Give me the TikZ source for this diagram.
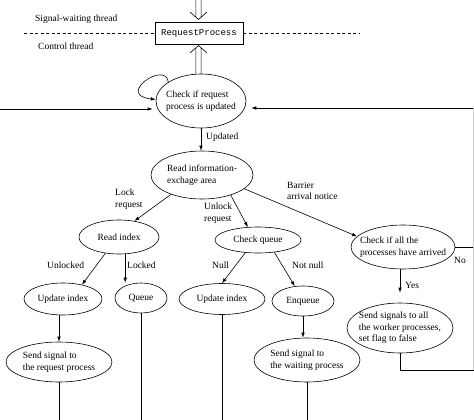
\documentclass[tikz,border=0pt]{standalone}
\usepackage{fontspec}
\setmainfont{Liberation Serif}
\newfontfamily\monofam{Liberation Mono}
\usetikzlibrary{arrows.meta,shapes.geometric,calc}
\begin{document}
\begin{tikzpicture}[x=1pt,y=-1pt,
  every node/.style={font=\fontsize{9.5}{11.5}\selectfont, inner sep=0pt},
  txt/.style={align=left, font=\fontsize{9.5}{11.5}\selectfont},
  ell/.style={ellipse, draw, line width=0.6pt},
  lbl/.style={anchor=west, align=left},
  arr/.style={draw, line width=0.6pt, -{Latex[length=5pt,width=3.5pt]}},
  ln/.style={draw, line width=0.6pt},
  dsh/.style={line width=0.6pt, dash pattern=on 3pt off 2.5pt},
]
\useasboundingbox (0,0) rectangle (474,420);

% top box and thread labels
\node[draw, line width=0.6pt, minimum width=88pt, minimum height=22pt,
      font=\monofam\fontsize{9}{11}\selectfont] (rp) at (199,33) {RequestProcess};
\node[lbl] (swt) at (35,19) {Signal-waiting thread};
\node[lbl] (ct) at (38,46) {Control thread};
\coordinate (dl) at (24,33);
\coordinate (dr) at (360,33);
\draw[dsh] (dl) -- (rp.west);
\draw[dsh] (rp.east) -- (dr);

% ellipses
\node[ell, minimum width=90pt, minimum height=54pt,
  label={[txt]center:{Check if request\\process is updated}}] (chk) at (201,101) {};
\node[ell, minimum width=102pt, minimum height=48pt,
  label={[txt]center:{Read information-\\exchage area}}] (rie) at (202,175) {};
\node[ell, minimum width=80pt, minimum height=34pt,
  label={[txt]center:{Read index}}] (ri) at (119,237) {};
\node[ell, minimum width=86pt, minimum height=26pt,
  label={[txt]center:{Check queue}}] (cq) at (258,240) {};
\node[ell, minimum width=104pt, minimum height=44pt,
  label={[txt]center:{Check if all the\\processes have arrived}}] (cia) at (403,247) {};
\node[ell, minimum width=78pt, minimum height=32pt,
  label={[txt]center:{Update index}}] (ui1) at (63,299) {};
\node[ell, minimum width=52pt, minimum height=30pt,
  label={[txt]center:{Queue}}] (q) at (141,298) {};
\node[ell, minimum width=86pt, minimum height=31pt,
  label={[txt]center:{Update index}}] (ui2) at (222,299) {};
\node[ell, minimum width=62pt, minimum height=30pt,
  label={[txt]center:{Enqueue}}] (enq) at (303,301) {};
\node[ell, minimum width=106pt, minimum height=50pt,
  label={[txt]center:{Send signals to all\\the worker processes,\\set flag to false}}] (ssa) at (400,328) {};
\node[ell, minimum width=106pt, minimum height=40pt,
  label={[txt]center:{Send signal to\\the request process}}] (ssr) at (59,362) {};
\node[ell, minimum width=106pt, minimum height=44pt,
  label={[txt]center:{Send signal to\\the waiting process}}] (ssw) at (307,360) {};

% double arrows (into and out of RequestProcess): two strokes + open head, one path each
\coordinate (ta1) at (195.85,0);
\coordinate (ta2) at (195.85,17.2);
\coordinate (tb1) at (201.15,0);
\coordinate (tb2) at (201.15,17.2);
\coordinate (tcl) at (190,12);
\coordinate (tca) at (198.5,19.5);
\coordinate (tcr) at (207,12);
\draw[ln] (ta1) -- (ta2) (tb1) -- (tb2) (tcl) -- (tca) -- (tcr);
\coordinate (ba1) at (195.85,74);
\coordinate (ba2) at (195.85,47.8);
\coordinate (bb1) at (201.15,74);
\coordinate (bb2) at (201.15,47.8);
\coordinate (bcl) at (190,53);
\coordinate (bca) at (198.5,45.5);
\coordinate (bcr) at (207,53);
\draw[ln] (ba1) -- (ba2) (bb1) -- (bb2) (bcl) -- (bca) -- (bcr);

% loop and side inputs
\draw[arr] (chk.150) .. controls (166,60) and (115,95) .. (chk.178);
\coordinate (lin) at (0,109);
\draw[arr, shorten >=3pt] (lin) -- (lin -| chk.west);
\coordinate (rin) at (474,108);
\draw[arr, shorten >=5pt] (rin) -- (rin -| chk.east);

% main arrows
\draw[arr] (chk.south) -- (chk.south |- rie.north);
\draw[arr] (rie.212) -- (ri.46);
\draw[arr] (rie.325) -- (cq.128);
\draw[arr] (rie.342) -- (cia.167);
\draw[arr] (ri.230) -- (ui1.37);
\draw[arr] (ri.290) -- (ri.290 |- q.north);
\draw[arr] (cq.225) -- (ui2.north);
\draw[arr] (cq.323) -- (enq.119);
\draw[arr] (cia.south -| ssa.north) -- ([yshift=10pt]ssa.north);
\draw[arr] (ui1.south -| ssr.north) -- (ssr.north);
\draw[arr] (enq.south) -- (enq.south |- ssw.north);

% lines to the edges
\coordinate (bot) at (0,420);
\draw[ln] (ssr.south) -- (ssr.south |- bot);
\draw[ln] (q.south) -- (q.south |- bot);
\draw[ln] (ui2.south) -- (ui2.south |- bot);
\draw[ln] (ssw.south) -- (ssw.south |- bot);
\coordinate (rb) at (474,370);
\draw[ln] (ssa.south) |- (rb);
\coordinate (rno) at (474,247);
\draw[ln] (cia.east) -- (rno);
\coordinate (rtop) at (473.5,108);
\coordinate (rbot) at (473.5,370);
\draw[black!20, line width=0.6pt] (rtop) -- (rbot);

% edge labels
\node[lbl] (lupd) at (206,137) {Updated};
\node[lbl] (llock) at (115,199) {Lock\\request};
\node[lbl] (lunlock) at (204,213) {Unlock\\request};
\node[lbl] (lbar) at (287,191) {Barrier\\arrival notice};
\node[lbl] (lunl) at (47,265) {Unlocked};
\node[lbl] (lloc) at (127,265) {Locked};
\node[lbl] (lnull) at (212,265) {Null};
\node[lbl] (lnn) at (292,265) {Not null};
\node[lbl] (lno) at (454,260) {No};
\node[lbl] (lyes) at (405,285) {Yes};
\end{tikzpicture}
\end{document}
